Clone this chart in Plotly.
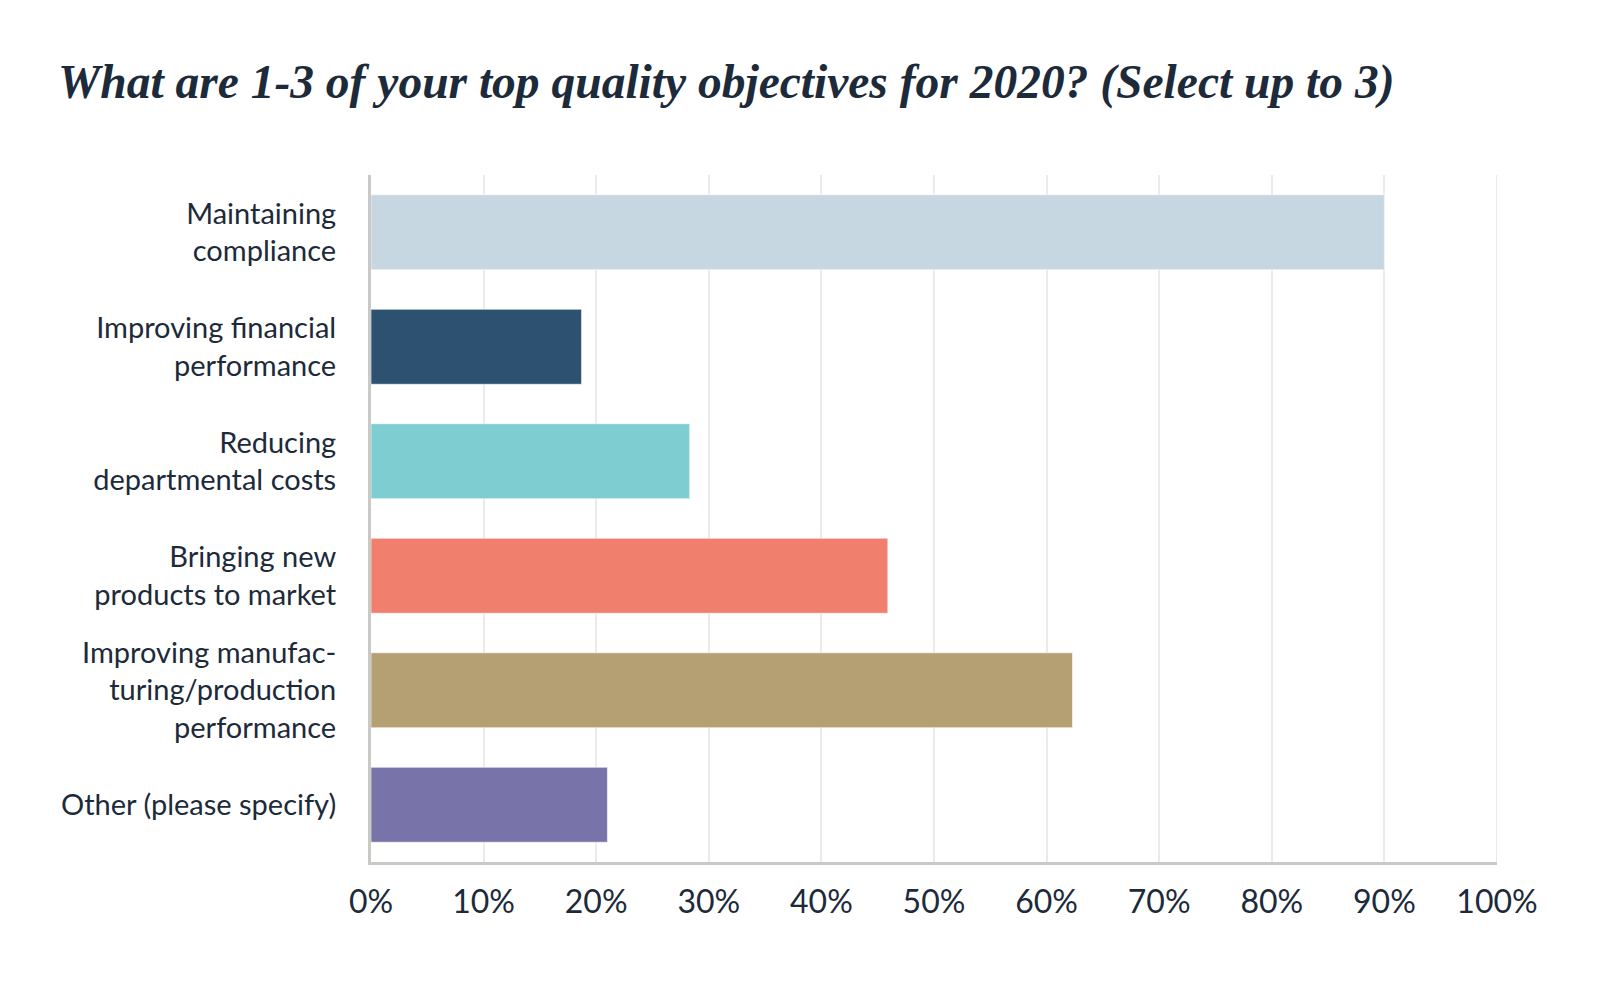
import plotly.graph_objects as go

# --- DATOS ---
CATEGORIAS = [
    "Maintaining<br>compliance",
    "Improving financial<br>performance",
    "Reducing<br>departmental costs",
    "Bringing new<br>products to market",
    "Improving manufac-<br>turing/production<br>performance",
    "Other (please specify)",
]
PORCENTAJES = [90.0, 18.7, 28.3, 45.9, 62.3, 21.0]
COLORES = ["#c6d7e1", "#2d5170", "#7ecdd0", "#f07f6e", "#b4a073", "#7873a8"]
TICKS_X = [0, 10, 20, 30, 40, 50, 60, 70, 80, 90, 100]
ETIQUETAS_X = [f"{t}%" for t in TICKS_X]

TITULO = "What are 1-3 of your top quality objectives for 2020? (Select up to 3)"
TEXTO = "#1c2a3a"
GRID = "#ebebeb"

# ---------------------------------------------------------------------

fig = go.Figure()

fig.add_trace(
    go.Bar(
        x=PORCENTAJES,
        y=CATEGORIAS,
        orientation="h",
        marker=dict(color=COLORES, line=dict(width=1, color="rgba(255,255,255,0.6)")),
        hoverinfo="skip",
    )
)

# linea de grilla del 100% (plotly la omite en el borde del area)
fig.add_vline(x=TICKS_X[-1], line=dict(color=GRID, width=2), layer="below")

# --- EJE X ---
fig.update_xaxes(
    range=[0, 100],
    tickmode="array",
    tickvals=TICKS_X,
    ticktext=ETIQUETAS_X,
    showgrid=True,
    gridcolor=GRID,
    gridwidth=2,
    showline=True,
    linecolor="#c9c9c5",
    linewidth=3,
    zeroline=False,
    ticks="",
    ticklabelstandoff=10,
    tickfont=dict(family="Lato", size=32, color=TEXTO),
)

# --- EJE Y ---
fig.update_yaxes(
    autorange="reversed",
    showgrid=False,
    showline=True,
    linecolor="#c9c9c5",
    linewidth=3,
    ticks="",
    ticklabelstandoff=26,
    tickfont=dict(family="Lato", size=29, color=TEXTO),
)

# --- LAYOUT ---
fig.update_layout(
    width=1610,
    height=984,
    margin=dict(l=371, r=113, t=175, b=122),
    paper_bgcolor="white",
    plot_bgcolor="white",
    bargap=0.345,
    showlegend=False,
    title=dict(
        text=f"<b><i>{TITULO}</i></b>",
        x=58 / 1610,
        xanchor="left",
        xref="container",
        y=1 - 81 / 984,
        yanchor="middle",
        yref="container",
        font=dict(family="Liberation Serif", size=47.5, color=TEXTO),
    ),
)

# sin margen del body para que la figura quede en (0, 0)
fig.write_html(
    "out.html",
    config={"displayModeBar": False},
    post_script="document.body.style.margin='0px';",
)
